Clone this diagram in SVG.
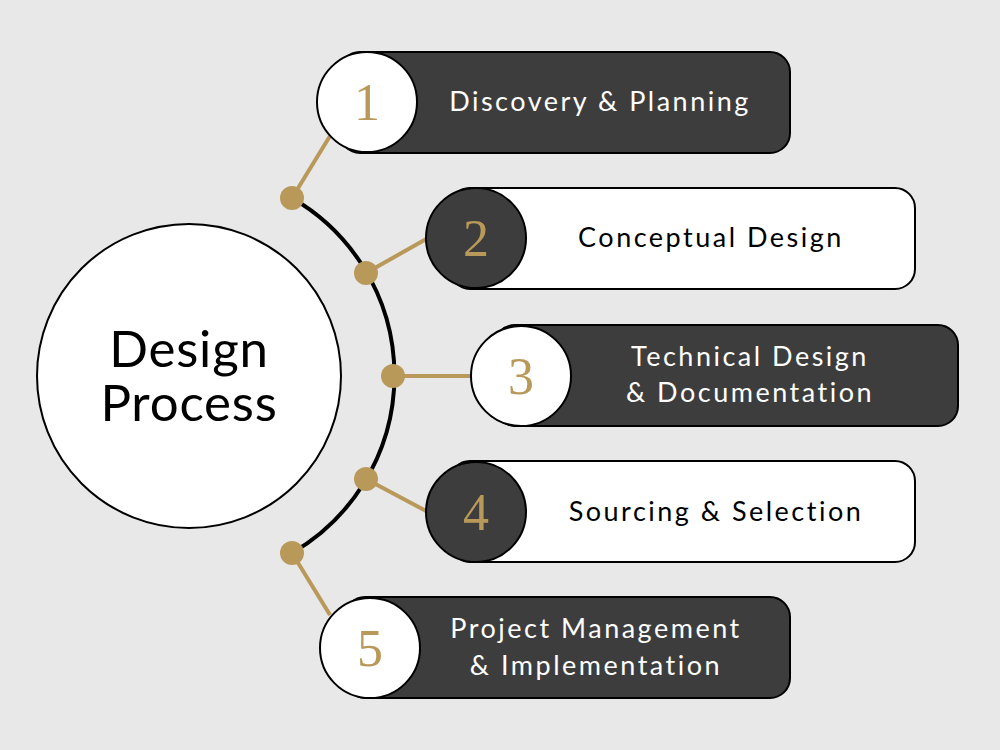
<svg xmlns="http://www.w3.org/2000/svg" width="1000" height="750" viewBox="0 0 1000 750">
<style>
.dark{fill:#3d3d3d;stroke:#000;stroke-width:2}
.light{fill:#fff;stroke:#000;stroke-width:2}
.lbl{font-family:Lato,"Open Sans",sans-serif;font-size:27px;letter-spacing:2.5px;text-anchor:middle}
.num{font-family:"Liberation Serif",serif;font-size:52px;fill:#b9995a;text-anchor:middle}
.gl{stroke:#b9995a;stroke-width:4;fill:none}
.dot{fill:#b9995a}
.big{font-family:Lato,"Open Sans",sans-serif;font-size:51px;letter-spacing:0.8px;text-anchor:middle;fill:#000}
</style>
<rect width="1000" height="750" fill="#e8e8e8"/>
<g id="connectors">
<path d="M292,198 A205,205 0 0 1 292,553" fill="none" stroke="#000" stroke-width="4"/>
<line class="gl" x1="292" y1="198" x2="330" y2="136"/>
<line class="gl" x1="366" y1="273" x2="428" y2="238"/>
<line class="gl" x1="393" y1="376" x2="472" y2="376"/>
<line class="gl" x1="366" y1="479" x2="428" y2="512"/>
<line class="gl" x1="292" y1="553" x2="330" y2="615"/>
<circle class="dot" cx="292" cy="198" r="12"/>
<circle class="dot" cx="366" cy="273" r="12"/>
<circle class="dot" cx="393" cy="376" r="12"/>
<circle class="dot" cx="366" cy="479" r="12"/>
<circle class="dot" cx="292" cy="553" r="12"/>
</g>
<g id="center">
<circle cx="189" cy="376" r="152" fill="#fff" stroke="#000" stroke-width="2"/>
<text class="big" x="189" y="367">Design</text>
<text class="big" x="189" y="421">Process</text>
</g>
<g id="step1">
<rect class="dark" x="340" y="52" width="450" height="101" rx="20"/>
<circle class="light" cx="367" cy="102" r="50"/>
<text class="num" x="367" y="120">1</text>
<text class="lbl" x="600" y="111" fill="#fff">Discovery &amp; Planning</text>
</g>
<g id="step2">
<rect class="light" x="450" y="188" width="465" height="101" rx="20"/>
<circle class="dark" cx="476" cy="238" r="50"/>
<text class="num" x="476" y="256">2</text>
<text class="lbl" x="711" y="247" fill="#000">Conceptual Design</text>
</g>
<g id="step3">
<rect class="dark" x="495" y="325" width="463" height="101" rx="20"/>
<circle class="light" cx="521" cy="376" r="50"/>
<text class="num" x="521" y="394">3</text>
<text class="lbl" x="750" y="366" fill="#fff">Technical Design</text>
<text class="lbl" x="750" y="402" fill="#fff">&amp; Documentation</text>
</g>
<g id="step4">
<rect class="light" x="450" y="461" width="465" height="101" rx="20"/>
<circle class="dark" cx="476" cy="512" r="50"/>
<text class="num" x="476" y="530">4</text>
<text class="lbl" x="716" y="521" fill="#000">Sourcing &amp; Selection</text>
</g>
<g id="step5">
<rect class="dark" x="345" y="597" width="445" height="101" rx="20"/>
<circle class="light" cx="370" cy="648" r="50"/>
<text class="num" x="370" y="666">5</text>
<text class="lbl" x="596" y="638" fill="#fff">Project Management</text>
<text class="lbl" x="596" y="675" fill="#fff">&amp; Implementation</text>
</g>
</svg>
